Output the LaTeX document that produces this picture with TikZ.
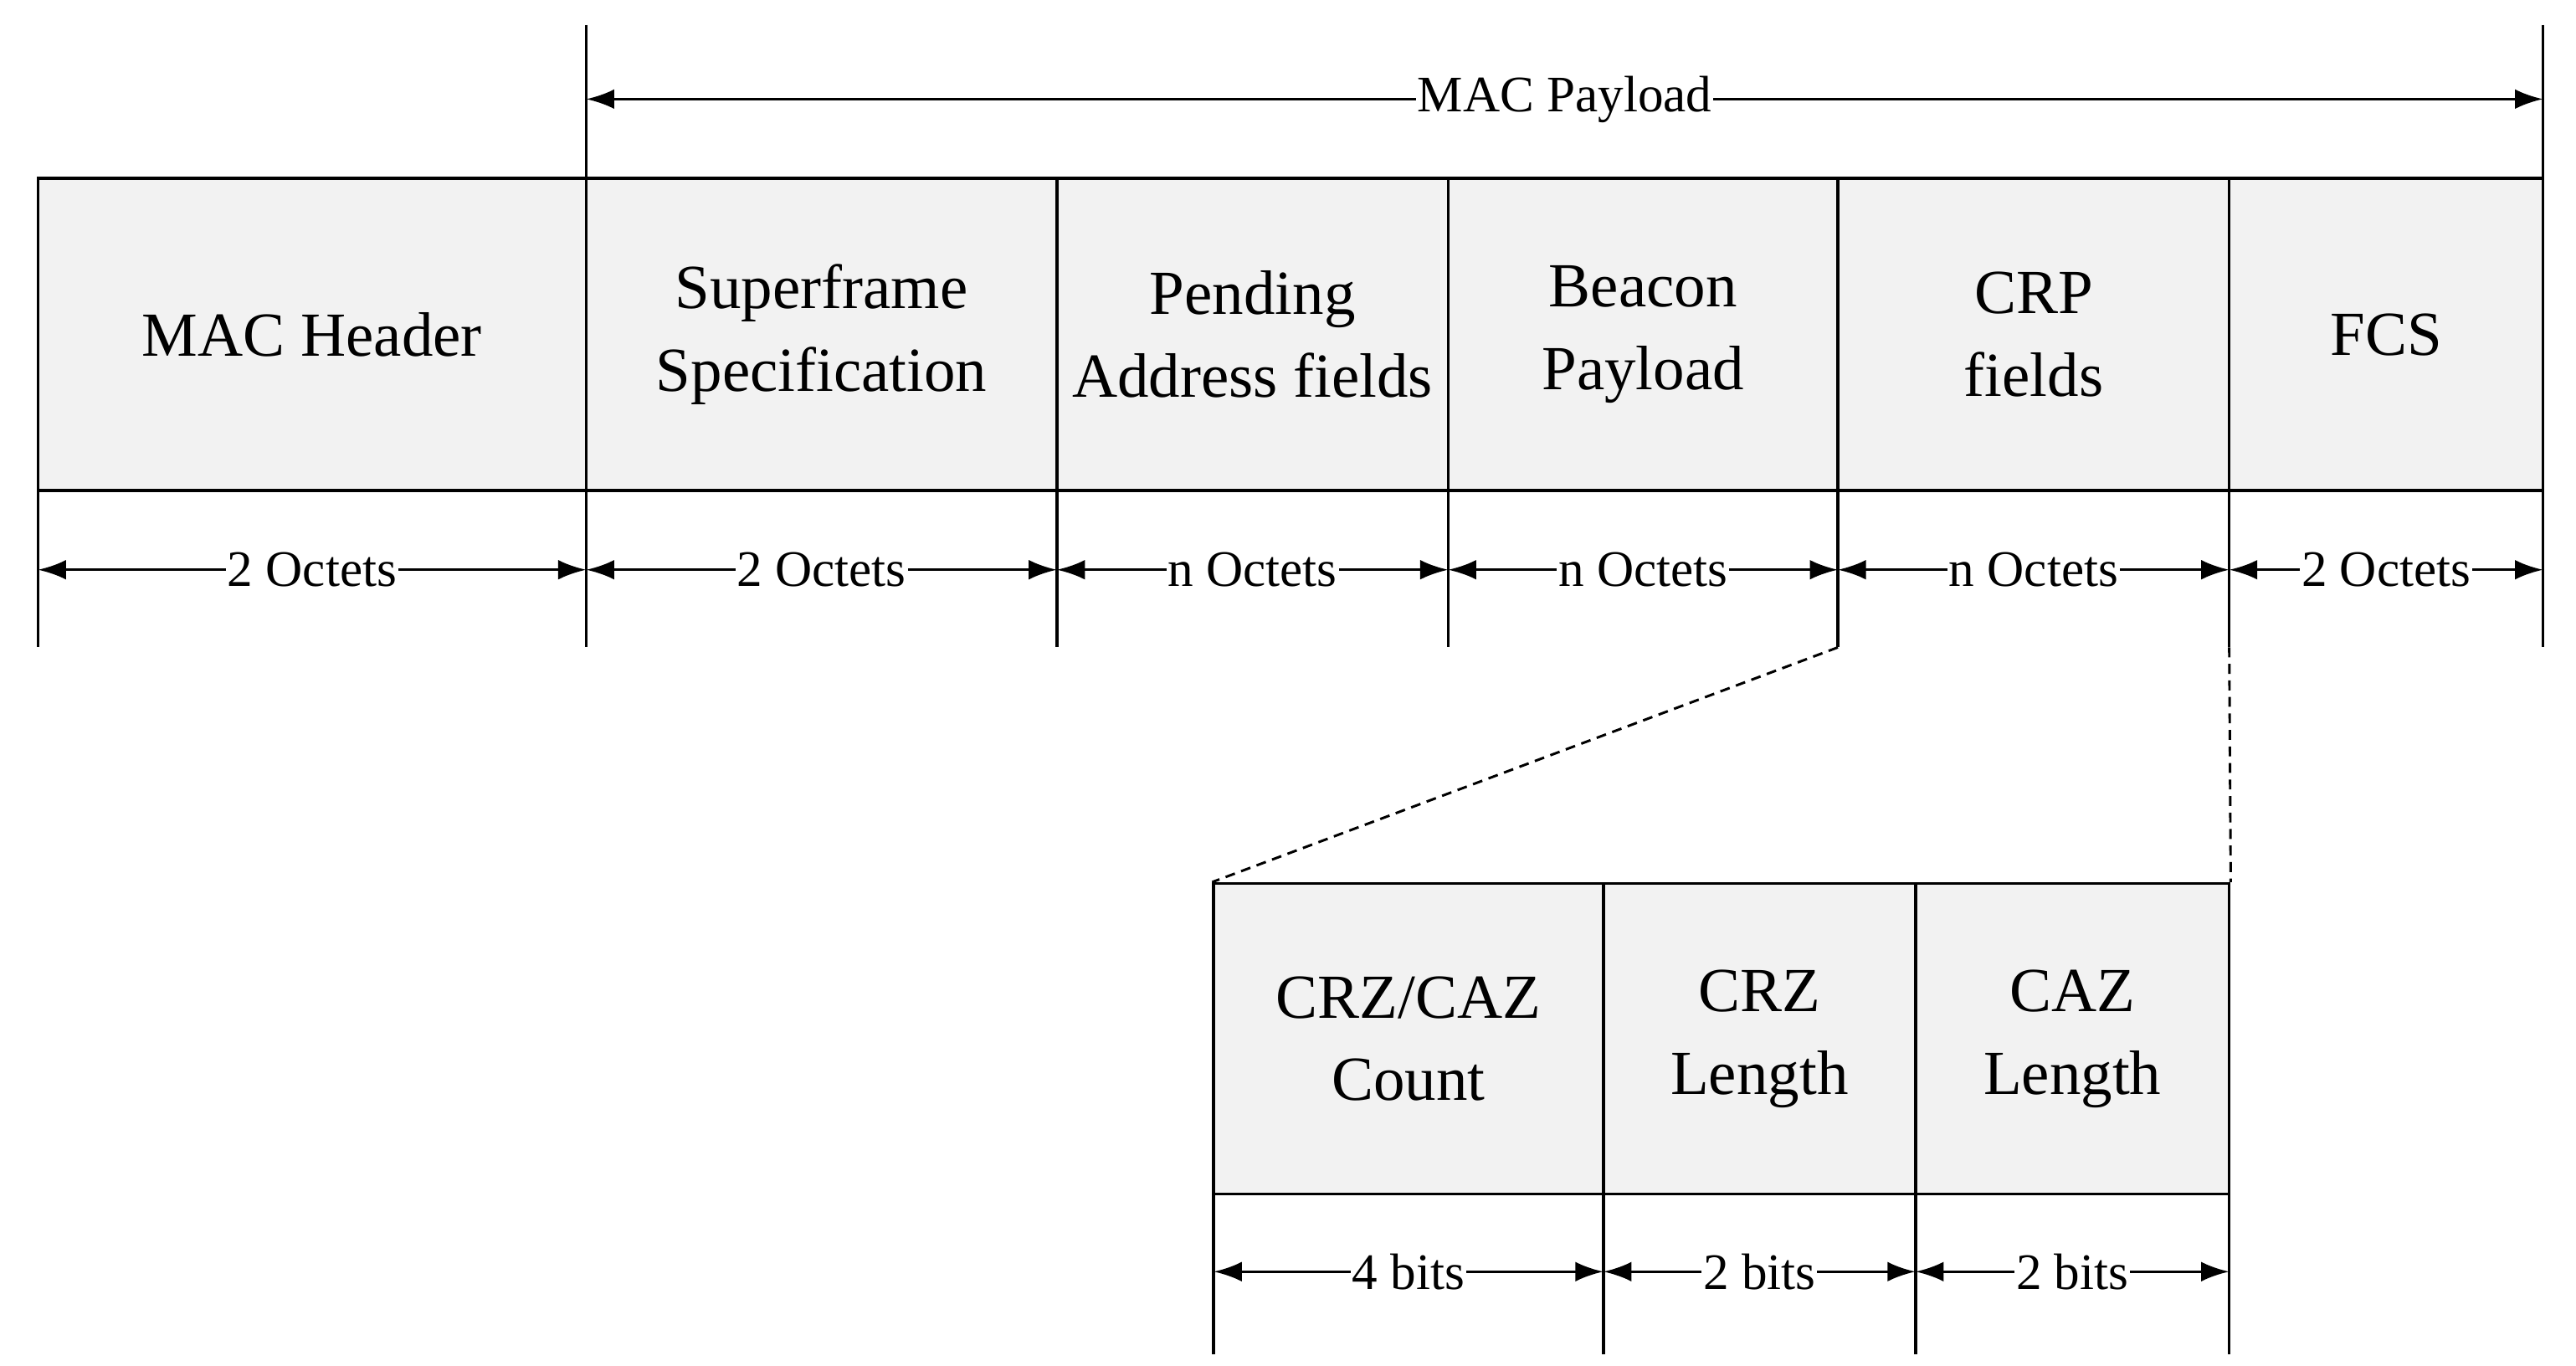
\documentclass[tikz,border=0pt]{standalone}
\usepackage{fontspec}
\setmainfont{Liberation Serif}
\usetikzlibrary{arrows.meta}
\begin{document}
\begin{tikzpicture}[x=1pt,y=-1pt,line width=1.8pt,
  fld/.style={draw,fill=black!5,inner sep=0pt,align=center,font=\fontsize{38}{50}\selectfont},
  dim/.style={{Latex[length=17pt,width=12pt]}-{Latex[length=17pt,width=12pt]}},
  lab/.style={fill=white,inner sep=1pt,font=\fontsize{31}{36}\selectfont},
  tick/.style={line width=1.8pt}]
\useasboundingbox (0,0) rectangle (1560,827);
\fill[white] (0,0) rectangle (1560,827);
% top row fields
\foreach \n/\a/\b/\t in {f1/23/355/{MAC Header},f2/355/640/{Superframe\\Specification},f3/640/877/{Pending\\Address fields},f4/877/1113/{Beacon\\Payload},f5/1113/1350/{CRP\\fields},f6/1350/1540/{FCS}}{
  \pgfmathsetmacro\w{\b-\a}\pgfmathsetmacro\c{(\a+\b)/2}
  \node[fld,minimum width=\w pt,minimum height=189pt] (\n) at (\c,202.5) {\t};
}
% bottom row fields
\foreach \n/\a/\b/\t in {g1/735/971/{CRZ/CAZ\\Count},g2/971/1160/{CRZ\\Length},g3/1160/1350/{CAZ\\Length}}{
  \pgfmathsetmacro\w{\b-\a}\pgfmathsetmacro\c{(\a+\b)/2}
  \node[fld,minimum width=\w pt,minimum height=188pt] (\n) at (\c,629) {\t};
}
% tick lines top
\foreach \x [count=\i] in {23,355,640,877,1113,1350,1540}{
  \coordinate (t\i) at (\x,345);
  \draw[tick] (\x,297) -- (\x,392);
}
\coordinate (p1) at (355,60); \coordinate (p2) at (1540,60);
\draw[tick] (355,15) -- (355,108);
\draw[tick] (1540,15) -- (1540,108);
\draw[dim] (p1) -- node[lab]{MAC Payload} (p2);
\draw[dim] (t1) -- node[lab]{2 Octets} (t2);
\draw[dim] (t2) -- node[lab]{2 Octets} (t3);
\draw[dim] (t3) -- node[lab]{n Octets} (t4);
\draw[dim] (t4) -- node[lab]{n Octets} (t5);
\draw[dim] (t5) -- node[lab]{n Octets} (t6);
\draw[dim] (t6) -- node[lab]{2 Octets} (t7);
% bottom ticks
\foreach \x [count=\i] in {735,971,1160,1350}{
  \coordinate (b\i) at (\x,770);
  \draw[tick] (\x,723) -- (\x,820);
}
\draw[dim] (b1) -- node[lab]{4 bits} (b2);
\draw[dim] (b2) -- node[lab]{2 bits} (b3);
\draw[dim] (b3) -- node[lab]{2 bits} (b4);
% zoom lines
\coordinate (z1) at (1113,392); \coordinate (z2) at (1350,392);
\draw[line width=1.5pt,dash pattern=on 6pt off 4pt] (z1) -- (g1.north west);
\draw[line width=1.5pt,dash pattern=on 6pt off 4pt] (z2) -- (g3.north east);
\end{tikzpicture}
\end{document}
